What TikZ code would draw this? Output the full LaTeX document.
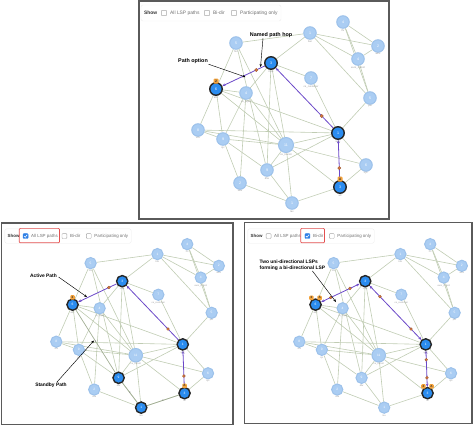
\documentclass[tikz,border=0pt]{standalone}
\usepackage{fontspec}
\setmainfont{Liberation Sans}
\usetikzlibrary{arrows.meta}
\pgfdeclarelayer{bg}
\pgfsetlayers{bg,main}
\definecolor{lfill}{HTML}{AACDF3}
\definecolor{lring}{HTML}{9CC1EA}
\definecolor{afill}{HTML}{2B8CEF}
\definecolor{edgec}{HTML}{C0CCB3}
\definecolor{pathc}{HTML}{6B48C8}
\definecolor{hopc}{HTML}{D9783F}
\definecolor{badgec}{HTML}{F3A23A}
\definecolor{framec}{HTML}{5A5A5A}
\definecolor{hlred}{HTML}{E35050}
\definecolor{chkblue}{HTML}{2F80E6}
\definecolor{uigray}{HTML}{707070}
\definecolor{standc}{HTML}{A2AE94}
\tikzset{
 lnode/.style={circle, fill=lfill, draw=lring, line width=1pt, minimum size=12.5pt, inner sep=0pt, text=white, font=\fontsize{3.6}{4}\selectfont},
 anode/.style={fill=afill, draw=black!85, line width=1.4pt},
 bignode/.style={minimum size=15pt},
 nlab/.style={font=\fontsize{2.6}{3}\selectfont, text=gray!80, inner sep=0.6pt},
 edge/.style={draw=edgec, line width=0.6pt},
 lsp/.style={draw=pathc, line width=0.8pt, -{Stealth[length=3.2pt,width=2.6pt]}},
 lspbi/.style={draw=pathc, line width=0.8pt, {Stealth[length=3.2pt,width=2.6pt]}-{Stealth[length=3.2pt,width=2.6pt]}},
 stby/.style={draw=standc, line width=0.7pt},
 hop/.style={circle, fill=hopc, draw=hopc!70!black, line width=0.3pt, minimum size=3.2pt, inner sep=0pt},
 badge/.style={rounded corners=1pt, fill=badgec, minimum size=5pt, inner sep=0pt, font=\fontsize{3.4}{4}\selectfont\bfseries, text=black!80},
 note/.style={font=\fontsize{5.4}{6.2}\selectfont\bfseries, inner sep=0.5pt, align=left},
 notes/.style={font=\fontsize{4.9}{5.8}\selectfont\bfseries, inner sep=0.5pt, align=left},
 notearrow/.style={draw=black, line width=0.45pt, -{Stealth[length=3pt,width=2.4pt]}},
 frame/.style={draw=framec, line width=1.6pt},
 uitext/.style={font=\fontsize{4.9}{5.5}\selectfont, text=uigray, inner sep=0pt, anchor=west},
 showtext/.style={font=\fontsize{4.9}{5.5}\selectfont\bfseries, text=black!80, inner sep=0pt, anchor=west},
 chk/.style={draw=gray!70, line width=0.45pt, rounded corners=0.8pt, minimum size=5.4pt, inner sep=0pt},
 chkon/.style={fill=chkblue, draw=chkblue},
 hl/.style={draw=hlred, line width=0.7pt, rounded corners=1pt},
 stP/.style={}, stS/.style={},
 cbA/.style={}, cbB/.style={}
}
\newcommand{\shownet}{%
 \draw[gray!15, line width=0.4pt, rounded corners=2pt] (141,5) rectangle (281,21);
 \node[showtext] (show) at (144,13) {Show};
 \node[chk,cbA] (c1) at (164,13) {};
 \node[uitext] (t1) at (170,13) {All LSP paths};
 \node[chk,cbB] (c2) at (207,13) {};
 \node[uitext] (t2) at (213,13) {Bi-dir};
 \node[chk] (c3) at (234,13) {};
 \node[uitext] (t3) at (240,13) {Participating only};
 \node[lnode] (A) at (236,43) {5};
 \node[lnode] (B) at (310,33) {1};
 \node[lnode] (C) at (343,22) {4};
 \node[lnode] (D) at (378,46) {2};
 \node[lnode] (E) at (358,59) {4};
 \node[lnode,anode] (F) at (271,63) {3};
 \node[lnode] (G) at (311,78) {7};
 \node[lnode,anode] (H) at (216,89) {6};
 \node[lnode] (I) at (246,93) {4};
 \node[lnode] (J) at (370,98) {5};
 \node[lnode] (K) at (198,130) {8};
 \node[lnode] (L) at (223,139) {9};
 \node[lnode,bignode] (M) at (286,145) {11};
 \node[lnode,anode] (N) at (338,133) {1};
 \node[lnode] (O) at (366,165) {6};
 \node[lnode,stP] (P) at (267,170) {9};
 \node[lnode] (Q) at (240,183) {2};
 \node[lnode,anode] (R) at (340,187) {3};
 \node[lnode,stS] (S) at (292,203) {1};
 \foreach \n/\t in {A/foo,B/bar,C/lhr,D/ams,E/euro\_transit,F/mpe,G/ce\_customer,H/abc,I/ce\_pipet,J/par,K/xxx,L/sjc,M/ce\_transit,N/wdc,O/nyc,P/dfw,Q/sea,R/atl,S/lax}
   \node[nlab, anchor=north] (lab\n) at (\n.south) {\t};
 \begin{pgfonlayer}{bg}
 \foreach \u/\v in {A/H,A/P,A/M,A/B,B/F,B/E,B/D,B/J,C/D,C/E,C/J,D/E,E/J,F/G,F/I,F/M,F/P,H/I,H/K,H/L,H/M,H/N,I/L,I/Q,K/L,K/M,K/N,L/M,L/P,L/Q,M/N,M/O,M/S,M/P,N/J,N/O,N/P,G/N,P/S,Q/S,R/O,R/S,R/M,I/M}
   \draw[edge] (\u) -- (\v);
 \end{pgfonlayer}
}
\begin{document}
\begin{tikzpicture}[x=1pt,y=-1pt]
\useasboundingbox (0,0) rectangle (474,426);
% ---------------- top panel
\begin{scope}[name prefix=t-]
 \shownet
 \begin{pgfonlayer}{bg}
 \draw[lsp] (R) -- (N) node[hop,pos=0.3]{};
 \draw[lsp] (N) -- (F) node[hop,pos=0.2]{};
 \draw[lsp] (F) -- (H) node[hop,pos=0.2] (hop1){};
 \end{pgfonlayer}
 \node[badge] (Hb) at (216,81) {2};
 \node[badge] (Rb) at (340,179) {A};
\end{scope}
\node[note] (nph) at (271,35) {Named path hop};
\coordinate (nphT) at (260.5,67);
\draw[notearrow] ([xshift=-8pt]nph.south) -- (nphT);
\node[note] (po) at (193,61) {Path option};
\coordinate (poT) at (245.5,77);
\draw[notearrow] (po.south east) -- (poT);
\draw[frame] (139,1) rectangle (389,219);
% ---------------- bottom left panel
\begin{scope}[name prefix=l-, xshift=-122.5pt, yshift=-224.3pt, scale=0.903, transform shape,
  stP/.style={anode}, stS/.style={anode}, cbA/.style={chkon}]
 \shownet
 \draw[white, line width=0.6pt] (162.3,13) -- (163.6,14.3) -- (165.8,11.6);
 \draw[hl] (157,4.5) rectangle (201.5,20.5);
 \begin{pgfonlayer}{bg}
 \draw[stby] (H) -- (P) node[pos=0.5,font=\fontsize{2.8}{3}\selectfont,text=gray]{8};
 \draw[stby] (P) -- (S) node[pos=0.5,font=\fontsize{2.8}{3}\selectfont,text=gray]{8};
 \draw[stby] (S) -- (R) node[pos=0.5,font=\fontsize{2.8}{3}\selectfont,text=gray]{8};
 \draw[lsp] (R) -- (N) node[hop,pos=0.3]{};
 \draw[lsp] (N) -- (F) node[hop,pos=0.2]{};
 \draw[lsp] (F) -- (H) node[hop,pos=0.2]{};
 \end{pgfonlayer}
 \node[badge] (Hb) at (216,81) {2};
 \node[badge] (Rb) at (340,179) {A};
\end{scope}
\node[notes] (ap) at (43.5,276) {Active Path};
\coordinate (apT) at (87,297);
\draw[notearrow] ([xshift=1pt,yshift=-1pt]ap.east) -- (apT);
\node[notes] (sp) at (51,385) {Standby Path};
\coordinate (spT) at (94,340.5);
\draw[notearrow] ([xshift=6pt]sp.north) -- (spT);
\draw[frame] (1.5,223) rectangle (233,424.5);
% ---------------- bottom right panel
\begin{scope}[name prefix=r-, xshift=120.5pt, yshift=-224.3pt, scale=0.903, transform shape, cbB/.style={chkon}]
 \shownet
 \draw[white, line width=0.6pt] (205.3,13) -- (206.6,14.3) -- (208.8,11.6);
 \draw[hl] (199.5,4.5) rectangle (226,20.5);
 \begin{pgfonlayer}{bg}
 \draw[lspbi] (R) -- (N) node[hop,pos=0.25]{} node[hop,pos=0.75]{};
 \draw[lspbi] (N) -- (F) node[hop,pos=0.2]{} node[hop,pos=0.8]{};
 \draw[lspbi] (F) -- (H) node[hop,pos=0.25]{} node[hop,pos=0.75]{};
 \end{pgfonlayer}
 \node[badge] (Hb) at (211.5,81.5) {2};
 \node[badge] (Ha) at (220.5,81.5) {A};
 \node[badge] (Rb) at (335.5,179.5) {2};
 \node[badge] (Ra) at (344.5,179.5) {A};
\end{scope}
\node[notes, anchor=west] (bt) at (259,265) {Two uni-directional LSPs\\forming a bi-directional LSP};
\coordinate (btT) at (336,302);
\draw[notearrow] ([xshift=20pt]bt.south) -- (btT);
\draw[frame] (244.5,222.5) rectangle (472,423.5);
\end{tikzpicture}
\end{document}
